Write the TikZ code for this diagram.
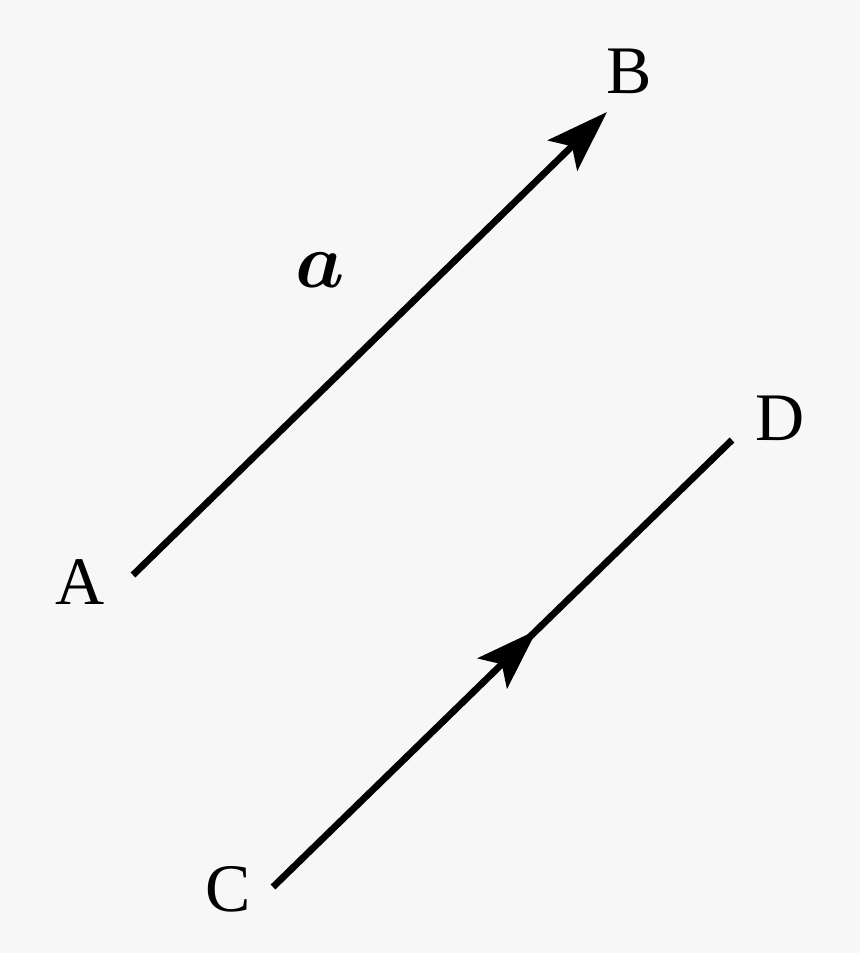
\documentclass[tikz,border=0pt]{standalone}
\usepackage{amsmath}
\usepackage{fontspec}
\setmainfont{Liberation Serif}
\usetikzlibrary{arrows.meta,decorations.markings}
\begin{document}
\begin{tikzpicture}[x=1pt,y=-1pt,
  vec/.style={line width=6.8pt,black},
  lbl/.style={font=\fontsize{68}{68}\selectfont,inner sep=0pt}]
\fill[fill={rgb,255:red,247;green,247;blue,247}] (0,0) rectangle (860,953);
\useasboundingbox (0,0) rectangle (860,953);
\coordinate (pA) at (133,575);
\coordinate (pB) at (607,112);
\coordinate (pC) at (273,887);
\coordinate (pD) at (732,440);
\node[lbl] (A) at (80,582) {A};
\node[lbl] (B) at (629,71) {B};
\node[lbl] (C) at (228,889) {C};
\node[lbl] (D) at (780,418) {D};
\node[inner sep=0pt,font=\Huge,scale=3.13] (a) at (320,270) {$\boldsymbol{a}$};
\draw[vec,-{Stealth[length=62pt,width=42pt,inset=13pt]}] (pA) -- (pB);
\draw[vec,postaction={decorate},decoration={markings,mark=at position 0.575 with {\arrow{Stealth[length=62pt,width=42pt,inset=13pt]}}}] (pC) -- (pD);
\end{tikzpicture}
\end{document}
